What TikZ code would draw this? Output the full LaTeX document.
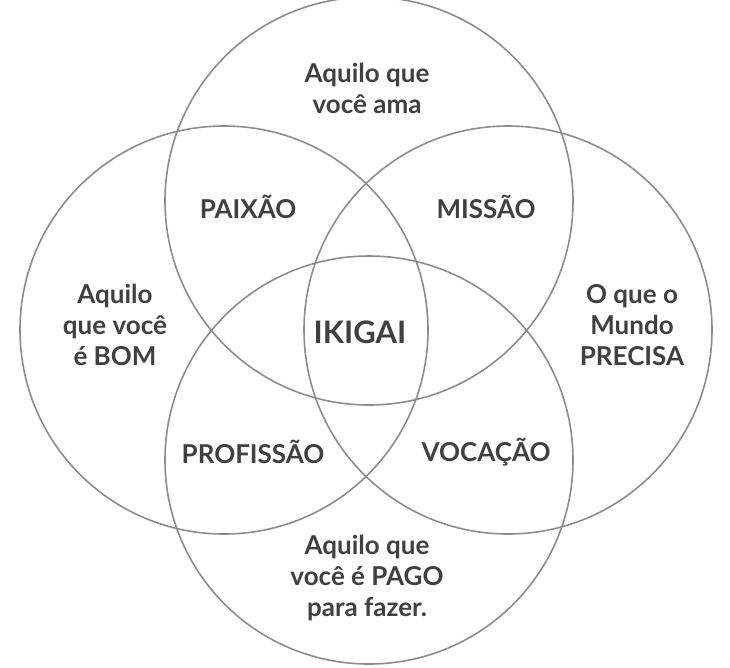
\documentclass[tikz,border=0pt]{standalone}
\usepackage{fontspec}
\setmainfont{Lato}
\begin{document}
\begin{tikzpicture}[x=1pt,y=-1pt]
	\tikzset{circulo/.style={draw=black!45, line width=1.6pt},
		rotulo/.style={font=\fontsize{26}{31}\selectfont\bfseries, text=black!75, align=center}};

	\useasboundingbox (0,0) rectangle (730,667);

	\draw[circulo] (369,201) circle (204);
	\draw[circulo] (224,330) circle (204);
	\draw[circulo] (508,330) circle (204);
	\draw[circulo] (369,460) circle (204);

	\node[rotulo] (ama)       at (367, 88) {Aquilo que\\você ama};
	\node[rotulo] (paixao)    at (248,207) {PAIXÃO};
	\node[rotulo] (missao)    at (486,207) {MISSÃO};
	\node[rotulo] (bom)       at (115,325) {Aquilo\\que você\\é BOM};
	\node[rotulo] (ikigai)    at (360,332) {\fontsize{31}{31}\selectfont IKIGAI};
	\node[rotulo] (precisa)   at (632,325) {O que o\\Mundo\\PRECISA};
	\node[rotulo] (profissao) at (253,452) {PROFISSÃO};
	\node[rotulo] (vocacao)   at (486,452) {VOCAÇÃO};
	\node[rotulo] (pago)      at (367,578) {Aquilo que\\você é PAGO\\para fazer.};

\end{tikzpicture}
\end{document}
